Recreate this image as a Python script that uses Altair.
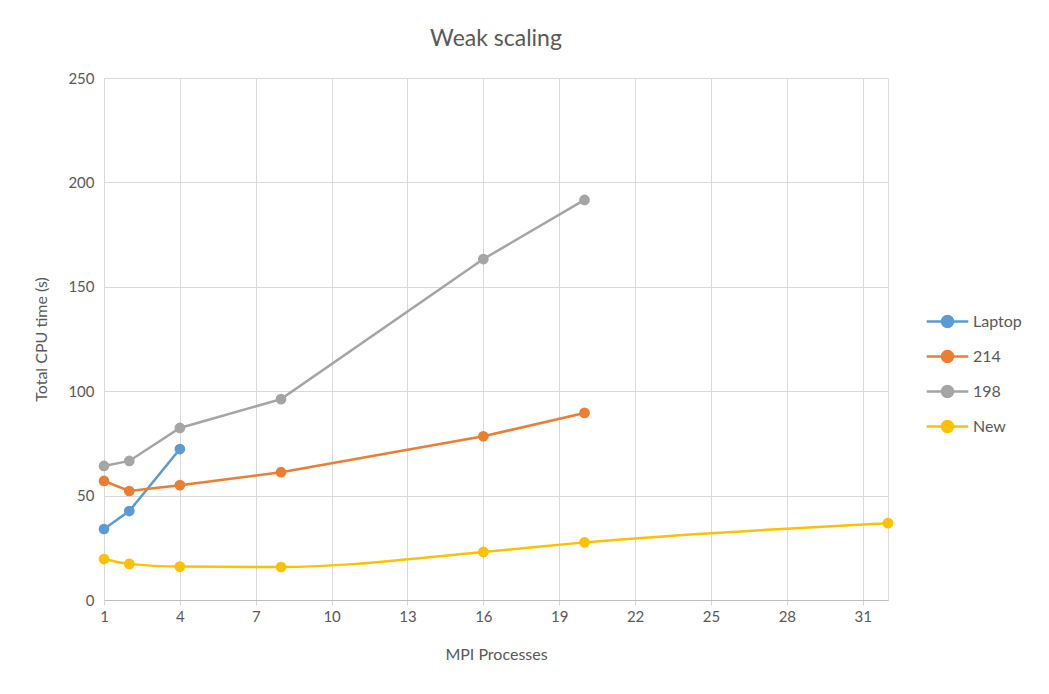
import altair as alt
import pandas as pd

x_laptop = [1, 2, 4]
y_laptop = [34.0, 42.6, 72.3]
x_214 = [1, 2, 4, 8, 16, 20]
y_214 = [57.0, 52.2, 55.0, 61.2, 78.4, 89.6]
x_198 = [1, 2, 4, 8, 16, 20]
y_198 = [64.2, 66.6, 82.4, 96.2, 163.3, 191.6]
x_new = [1, 2, 4, 8, 16, 20, 32]
y_new = [19.6, 17.3, 16.0, 15.8, 23.0, 27.6, 36.8]

series = ["Laptop", "214", "198", "New"]
colors = ["#5b9bd5", "#ed7d31", "#a5a5a5", "#ffc000"]
x_ticks = [1, 4, 7, 10, 13, 16, 19, 22, 25, 28, 31]
y_ticks = [0, 50, 100, 150, 200, 250]

rows = []
for name, xs, ys in [("Laptop", x_laptop, y_laptop), ("214", x_214, y_214),
                     ("198", x_198, y_198), ("New", x_new, y_new)]:
    for xv, yv in zip(xs, ys):
        rows.append({"series": name, "x": xv, "y": yv})
df = pd.DataFrame(rows)

FONT = "Lato"
TXT = "#595959"

color = alt.Color(
    "series:N",
    scale=alt.Scale(domain=series, range=colors),
    legend=alt.Legend(
        title=None, orient="none", legendX=830, legendY=230,
        labelFontSize=16, labelColor=TXT, labelFont=FONT,
        rowPadding=10, symbolSize=600, symbolStrokeWidth=2.5,
        symbolType="M-1.7,0H1.7M-0.45,0A0.45,0.45 0 1,0 0.45,0A0.45,0.45 0 1,0 -0.45,0",
        labelOffset=12,
    ),
)

xenc = alt.X(
    "x:Q",
    scale=alt.Scale(domain=[1, 32], nice=False, zero=False),
    axis=alt.Axis(values=x_ticks, title="MPI Processes", titleFontSize=16,
                  titleFontWeight="normal", titleColor=TXT, titleFont=FONT,
                  labelFontSize=15, labelColor=TXT, labelFont=FONT, labelFlush=False,
                  gridColor="#d9d9d9", domainColor="#bfbfbf", tickColor="#d9d9d9",
                  tickSize=5, labelPadding=4, titlePadding=22),
)
yenc = alt.Y(
    "y:Q",
    scale=alt.Scale(domain=[0, 250], nice=False),
    axis=alt.Axis(values=y_ticks, title="Total CPU time (s)", titleFontSize=16,
                  titleFontWeight="normal", titleColor=TXT, titleFont=FONT,
                  labelFontSize=15, labelColor=TXT, labelFont=FONT, labelFlush=False,
                  gridColor="#d9d9d9", domain=False, ticks=False,
                  labelPadding=10, titlePadding=18),
)

base = alt.Chart(df)
lines_straight = base.transform_filter(alt.datum.series != "New").mark_line(strokeWidth=2.5).encode(
    x=xenc, y=yenc, color=color, detail="series:N")
line_new = base.transform_filter(alt.datum.series == "New").mark_line(
    strokeWidth=2.5, interpolate="monotone").encode(x=xenc, y=yenc, color=color)
points = base.mark_point(filled=True, size=115, opacity=1).encode(x=xenc, y=yenc, color=color)

chart = alt.layer(lines_straight, line_new, points).properties(
    width=784, height=522,
    title=alt.TitleParams("Weak scaling", fontSize=23, font=FONT, fontWeight="normal",
                          color=TXT, offset=20),
    autosize=alt.AutoSizeParams(type="none"),
    padding={"left": 96, "top": 70, "right": 153, "bottom": 86},
).configure_view(stroke=None).configure(background="white")

chart.save("out.html", embed_options={"renderer": "svg", "actions": False})
